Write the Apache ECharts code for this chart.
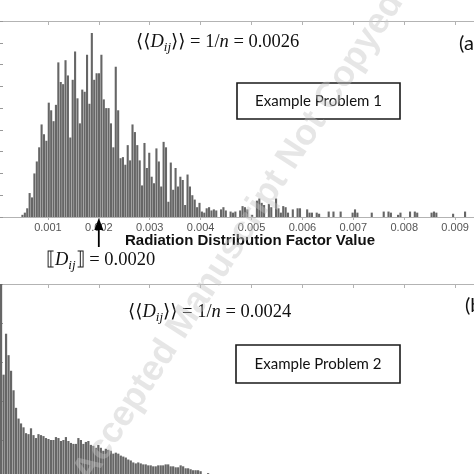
<!DOCTYPE html>
<html>
<head>
<meta charset="utf-8">
<script src="https://cdn.jsdelivr.net/npm/echarts@6/dist/echarts.min.js"></script>
<style>
  html, body { margin: 0; padding: 0; background: #fff; }
  #root { width: 474px; height: 474px; }
</style>
</head>
<body>
<div id="root"></div>
<script>
// histogram (a): bin centres start at topStart, one bin every topBinWidth
const topStart = 0.0005;
const topBinWidth = 0.000047;
const topCounts = [
  2, 4, 8, 22, 18, 40, 51, 64, 85, 76,
  70, 105, 98, 88, 103, 142, 124, 122, 144, 130,
  73, 126, 152, 109, 86, 117, 115, 149, 104, 169,
  126, 132, 132, 149, 108, 100, 100, 86, 64, 138,
  98, 54, 55, 48, 66, 52, 85, 78, 66, 52,
  29, 68, 45, 59, 37, 31, 63, 51, 28, 69,
  64, 14, 50, 25, 45, 28, 37, 34, 11, 39,
  28, 20, 16, 9, 13, 5, 4, 8, 9, 6,
  7, 6, 0, 7, 9, 6, 0, 5, 4, 5,
  0, 6, 10, 9, 7, 0, 2, 0, 15, 17,
  13, 11, 0, 12, 9, 0, 17, 8, 4, 10,
  9, 4, 0, 7, 0, 8, 8, 0, 0, 7,
  4, 4, 0, 4, 3, 0, 0, 0, 5, 0,
  5, 0, 0, 5, 0, 0, 0, 0, 4, 7,
  4, 0, 0, 0, 0, 0, 4, 0, 0, 0,
  0, 5, 0, 5, 4, 0, 0, 2, 4, 0,
  0, 0, 5, 0, 5, 4, 0, 0, 0, 0,
  0, 4, 5, 4, 0, 0, 0, 0, 0, 0,
  3, 0, 0, 0, 0, 5
];
const topMarkers = [0.00201, 0.0026];

// histogram (b)
const bottomStart = 0.00008;
const bottomBinWidth = 0.000049;
const bottomCounts = [
  260, 107, 149, 127, 111, 91, 73, 62, 57, 53,
  47, 46, 52, 45, 42, 46, 45, 44, 42, 41,
  40, 40, 43, 42, 39, 40, 43, 39, 37, 36,
  36, 42, 40, 36, 38, 39, 35, 34, 32, 35,
  32, 29, 31, 30, 29, 26, 27, 26, 24, 23,
  22, 20, 19, 17, 16, 17, 16, 15, 15, 14,
  14, 13, 13, 14, 14, 14, 15, 15, 13, 13,
  12, 12, 14, 13, 11, 11, 10, 9, 9, 9,
  8, 0, 0, 6
];
const bottomMarkers = [0.00132, 0.00244];
const medianTop = 0.002;

const xMin = 0, xMax = 0.0094, xStep = 0.001;

function toBars(start, width, counts) {
  return counts
    .map((c, i) => [start + i * width, c])
    .filter(d => d[1] > 0);
}

const axisGrey = '#b3b3b3';
const barGrey = '#666666';

function xAxisFor(gridIndex, position, showLabel) {
  return {
    gridIndex, type: 'value', position, min: xMin, max: xMax, interval: xStep,
    axisLine: { show: true, onZero: false, lineStyle: { color: axisGrey, width: 1 } },
    axisTick: { show: true, inside: position === 'top', length: position === 'top' ? 4 : 3,
      lineStyle: { color: axisGrey } },
    splitLine: { show: false },
    axisLabel: {
      show: showLabel, color: '#555', fontSize: 11, fontFamily: 'Liberation Sans', margin: 5,
      showMaxLabel: false,
      formatter: v => (v <= 0 || v > 0.0091) ? '' : v.toFixed(3)
    }
  };
}

function yAxisFor(gridIndex, max, interval) {
  return {
    gridIndex, type: 'value', min: 0, max, interval,
    axisLine: { show: true, lineStyle: { color: axisGrey } },
    axisTick: { show: true, inside: true, length: 6, lineStyle: { color: '#999' } },
    axisLabel: { show: false },
    splitLine: { show: false }
  };
}

function markers(values) {
  return {
    silent: true, symbol: 'none', animation: false,
    label: { show: false },
    lineStyle: { color: '#111', width: 1.6, type: 'solid' },
    data: values.map(v => ({ xAxis: v }))
  };
}

const chart = echarts.init(document.getElementById('root'));
chart.setOption({
  animation: false,
  backgroundColor: '#fff',
  grid: [
    { left: -3, width: 478.5, top: 21, height: 196, containLabel: false, outerBoundsMode: 'none' },
    { left: -3, width: 478.5, top: 284, height: 195, containLabel: false, outerBoundsMode: 'none' }
  ],
  xAxis: [
    xAxisFor(0, 'bottom', true),
    xAxisFor(0, 'top', false),
    xAxisFor(1, 'top', false)
  ],
  yAxis: [yAxisFor(0, 180, 20), yAxisFor(1, 200, 40)],
  series: [
    {
      type: 'bar', xAxisIndex: 0, yAxisIndex: 0, barWidth: 2.1,
      data: toBars(topStart, topBinWidth, topCounts),
      itemStyle: { color: barGrey },
      markLine: markers(topMarkers)
    },
    {
      type: 'bar', xAxisIndex: 2, yAxisIndex: 1, barWidth: 2.2,
      data: toBars(bottomStart, bottomBinWidth, bottomCounts),
      itemStyle: { color: barGrey },
      markLine: markers(bottomMarkers)
    }
  ]
});

const serif = 'Liberation Serif, DejaVu Serif, serif';
const rich = {
  m: { fontFamily: serif, fontSize: 18.5, color: '#111', lineHeight: 24 },
  i: { fontFamily: serif, fontSize: 18.5, fontStyle: 'italic', color: '#111', lineHeight: 24 },
  s: { fontFamily: serif, fontSize: 13, fontStyle: 'italic', color: '#111', lineHeight: 24, verticalAlign: 'bottom' }
};

function mathText(x, y, str) {
  return {
    type: 'text', left: x, top: y - 12, z: 10,
    style: { text: str, rich, fill: '#111' }
  };
}

function box(x, y, w, h, label) {
  return [
    { type: 'rect', shape: { x, y, width: w, height: h }, z: 10,
      style: { fill: '#fff', stroke: '#1a1a1a', lineWidth: 1.6 } },
    { type: 'text', x: x + w / 2, y: y + h / 2, z: 11,
      style: { text: label, fontFamily: 'Lato', fontSize: 15, fill: '#111',
        textAlign: 'center', textVerticalAlign: 'middle' } }
  ];
}

const ax = chart.convertToPixel({ xAxisIndex: 0 }, medianTop);

chart.setOption({
  graphic: [
    {
      type: 'text', x: 256, y: 211, rotation: 57 * Math.PI / 180, z: 20, silent: true,
      style: { text: 'Accepted Manuscript Not Copyedited', fontFamily: 'Liberation Sans',
        fontWeight: 'bold', fontSize: 36, fill: 'rgba(195,195,195,0.42)',
        textAlign: 'center', textVerticalAlign: 'middle' }
    },
    mathText(136, 45, '{m|⟨⟨}{i|D}{s|ij}{m|⟩⟩ = 1/}{i|n}{m| = 0.0026}'),
    mathText(128, 315, '{m|⟨⟨}{i|D}{s|ij}{m|⟩⟩ = 1/}{i|n}{m| = 0.0024}'),
    mathText(46, 263, '{m|⟦}{i|D}{s|ij}{m|⟧ = 0.0020}'),
    { type: 'text', left: 459, top: 34, z: 10,
      style: { text: '(a)', fontFamily: 'Lato', fontSize: 20, fill: '#111' } },
    { type: 'text', left: 465, top: 296, z: 10,
      style: { text: '(b)', fontFamily: 'Lato', fontSize: 20, fill: '#111' } },
    ...box(237, 83, 163, 36, 'Example Problem 1'),
    ...box(236, 345, 164, 38, 'Example Problem 2'),
    { type: 'text', x: 250, y: 241, z: 10,
      style: { text: 'Radiation Distribution Factor Value', fontFamily: 'Liberation Sans',
        fontWeight: 'bold', fontSize: 15, fill: '#111', textAlign: 'center', textVerticalAlign: 'middle' } },
    { type: 'line', z: 10, shape: { x1: ax, y1: 247, x2: ax, y2: 226 },
      style: { stroke: '#000', lineWidth: 1.8 } },
    { type: 'polygon', z: 10, shape: { points: [[ax, 218], [ax - 4.5, 230], [ax + 4.5, 230]] },
      style: { fill: '#000' } }
  ]
});
</script>
</body>
</html>
